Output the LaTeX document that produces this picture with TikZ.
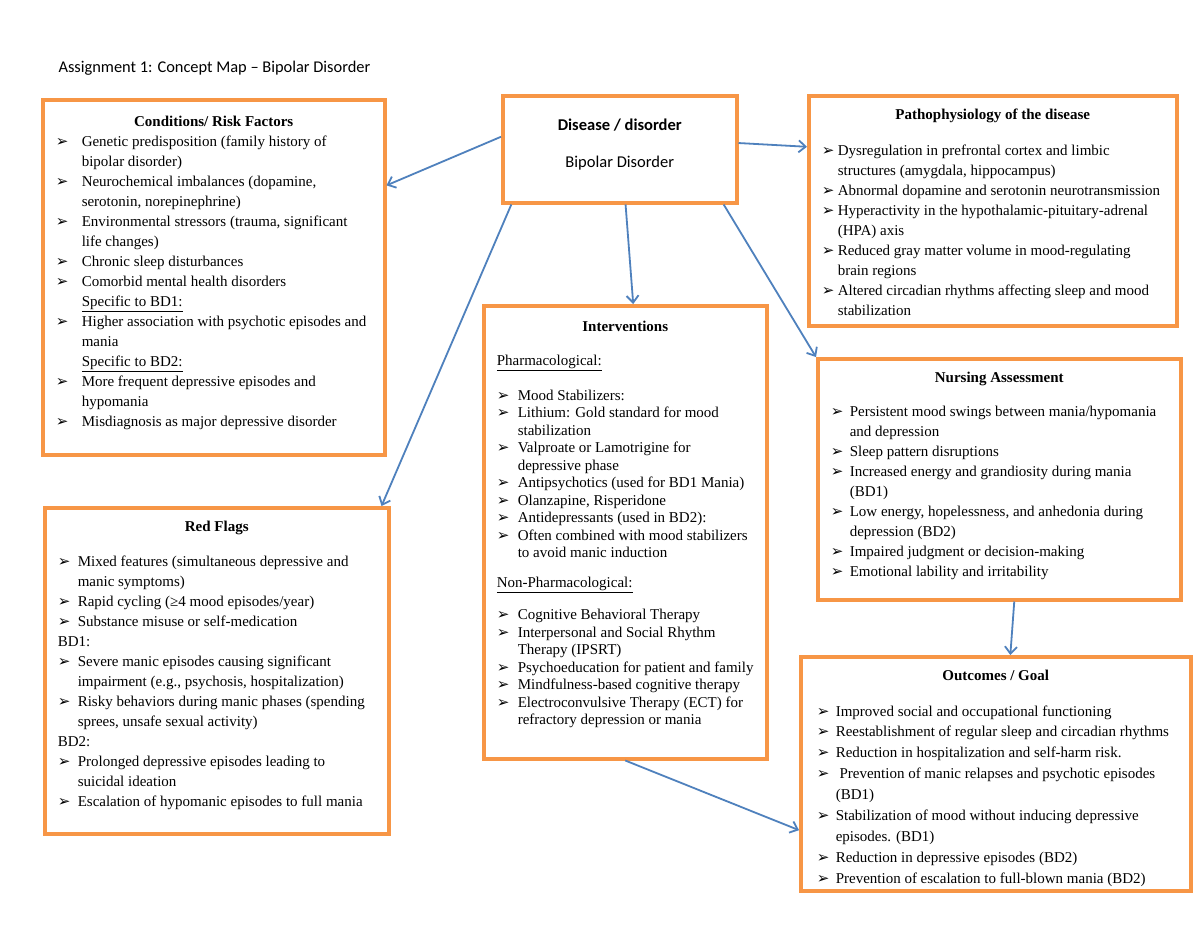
\documentclass[tikz,border=0pt]{standalone}
\usepackage{fontspec}
\setmainfont{Liberation Serif}
\newfontfamily\calibri{Carlito}
\newfontfamily\dingfont{DejaVu Sans}
\usetikzlibrary{arrows.meta}
\definecolor{boxorange}{HTML}{F79646}
\definecolor{arrowblue}{HTML}{4F81BD}
\newcommand\bul{{\dingfont\fontsize{15}{15}\selectfont ➢}}
\newcommand\itm[2][20pt]{\par\hangindent=#1\hangafter=1\noindent\makebox[#1][l]{\bul}#2}
\newcommand\subhd[2][0pt]{\par\noindent\hspace*{#1}\underline{#2}}
\newcommand\hd[1]{{\centering\textbf{#1}\par}}
\newcommand\boxbody[4]{\begin{minipage}[c][#2][t]{#1}\raggedright\rightskip=-30pt plus 1fil\vspace*{#3}#4\end{minipage}}

\begin{document}
\begin{tikzpicture}[x=1pt, y=-1pt,
	box/.style={draw=boxorange, line width=3.5pt, fill=white, anchor=north west, inner xsep=13pt, inner ysep=5pt, font=\fontsize{15}{20}\selectfont},
	arr/.style={draw=arrowblue, line width=1.8pt, -{Straight Barb[length=7pt,width=12pt]}}]
	\path[fill=white, use as bounding box] (0,0) rectangle (1200,927);
	\node[anchor=base west, font=\calibri\fontsize{16.4}{20}\selectfont] (title) at (55,72) {Assignment 1: Concept Map – Bipolar Disorder};
	\node[box] (cond) at (41,98) {\boxbody{316pt}{345pt}{11pt}{%
		\hd{Conditions/ Risk Factors}
		\itm[26pt]{Genetic predisposition (family history of\newline bipolar disorder)}
		\itm[26pt]{Neurochemical imbalances (dopamine,\newline serotonin, norepinephrine)}
		\itm[26pt]{Environmental stressors (trauma, significant\newline life changes)}
		\itm[26pt]{Chronic sleep disturbances}
		\itm[26pt]{Comorbid mental health disorders}
		\subhd[26pt]{Specific to BD1:}
		\itm[26pt]{Higher association with psychotic episodes and\newline mania}
		\subhd[26pt]{Specific to BD2:}
		\itm[26pt]{More frequent depressive episodes and\newline hypomania}
		\itm[26pt]{Misdiagnosis as major depressive disorder}}};
	\node[box, font=\calibri\fontsize{16.5}{20}\selectfont] (dis) at (501,94) {\boxbody{208pt}{97pt}{18pt}{%
		\centering\textbf{Disease / disorder}\par\vspace{17pt}
		Bipolar Disorder}};
	\node[box] (pat) at (807,94) {\boxbody{342pt}{220pt}{8pt}{%
		\hd{Pathophysiology of the disease}\vspace{16pt}
		\itm[16pt]{Dysregulation in prefrontal cortex and limbic\newline structures (amygdala, hippocampus)}
		\itm[16pt]{Abnormal dopamine and serotonin neurotransmission}
		\itm[16pt]{Hyperactivity in the hypothalamic-pituitary-adrenal\newline (HPA) axis}
		\itm[16pt]{Reduced gray matter volume in mood-regulating\newline brain regions}
		\itm[16pt]{Altered circadian rhythms affecting sleep and mood\newline stabilization}}};
	\node[box, font=\fontsize{15}{17.5}\selectfont] (int) at (482,304) {\boxbody{257pt}{443pt}{10pt}{%
		\hd{Interventions}\vspace{16.5pt}
		\subhd{Pharmacological:}\par\vspace{17.5pt}
		\itm[21pt]{Mood Stabilizers:}
		\itm[21pt]{Lithium: Gold standard for mood\newline stabilization}
		\itm[21pt]{Valproate or Lamotrigine for\newline depressive phase}
		\itm[21pt]{Antipsychotics (used for BD1 Mania)}
		\itm[21pt]{Olanzapine, Risperidone}
		\itm[21pt]{Antidepressants (used in BD2):}
		\itm[21pt]{Often combined with mood stabilizers\newline to avoid manic induction}
		\par\vspace{12.5pt}
		\subhd{Non-Pharmacological:}\par\vspace{14.5pt}
		\itm[21pt]{Cognitive Behavioral Therapy}
		\itm[21pt]{Interpersonal and Social Rhythm\newline Therapy (IPSRT)}
		\itm[21pt]{Psychoeducation for patient and family}
		\itm[21pt]{Mindfulness-based cognitive therapy}
		\itm[21pt]{Electroconvulsive Therapy (ECT) for\newline refractory depression or mania}}};
	\node[box] (nur) at (816,357) {\boxbody{337pt}{231pt}{8pt}{%
		\hd{Nursing Assessment}\vspace{14pt}
		\itm[19pt]{Persistent mood swings between mania/hypomania\newline and depression}
		\itm[19pt]{Sleep pattern disruptions}
		\itm[19pt]{Increased energy and grandiosity during mania\newline (BD1)}
		\itm[19pt]{Low energy, hopelessness, and anhedonia during\newline depression (BD2)}
		\itm[19pt]{Impaired judgment or decision-making}
		\itm[19pt]{Emotional lability and irritability}}};
	\node[box] (red) at (43,506) {\boxbody{318pt}{316pt}{8pt}{%
		\hd{Red Flags}\vspace{15pt}
		\itm{Mixed features (simultaneous depressive and\newline manic symptoms)}
		\itm{Rapid cycling (≥4 mood episodes/year)}
		\itm{Substance misuse or self-medication}
		\par\noindent BD1:
		\itm{Severe manic episodes causing significant\newline impairment (e.g., psychosis, hospitalization)}
		\itm{Risky behaviors during manic phases (spending\newline sprees, unsafe sexual activity)}
		\par\noindent BD2:
		\itm{Prolonged depressive episodes leading to\newline suicidal ideation}
		\itm{Escalation of hypomanic episodes to full mania}}};
	\node[box, inner xsep=16pt, font=\fontsize{15}{20.9}\selectfont] (out) at (799,655) {\boxbody{358pt}{224pt}{8pt}{%
		\hd{Outcomes / Goal}\vspace{15pt}
		\itm[19pt]{Improved social and occupational functioning}
		\itm[19pt]{Reestablishment of regular sleep and circadian rhythms}
		\itm[19pt]{Reduction in hospitalization and self-harm risk.}
		\itm[19pt]{\ Prevention of manic relapses and psychotic episodes\newline (BD1)}
		\itm[19pt]{Stabilization of mood without inducing depressive\newline episodes. (BD1)}
		\itm[19pt]{Reduction in depressive episodes (BD2)}
		\itm[19pt]{Prevention of escalation to full-blown mania (BD2)}}};
	\foreach \from/\to in {dis.174/cond.28.5, dis.3.4/pat.161, dis.276/int.88.6, dis.207/red.45.2, dis.332/nur.north west, nur.277/out.83, int.south/out.196.5}
		\draw[arr] (\from) -- (\to);
\end{tikzpicture}
\end{document}
